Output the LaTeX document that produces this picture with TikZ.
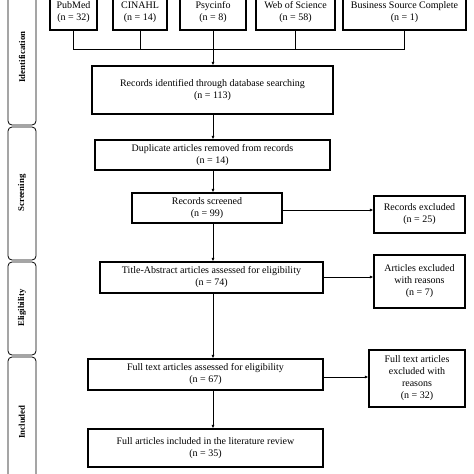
\documentclass[tikz,border=0pt]{standalone}
\usepackage{fontspec}
\setmainfont{Liberation Serif}
\usetikzlibrary{arrows.meta}
\begin{document}
\begin{tikzpicture}[x=1pt,y=-1pt,
  box/.style={draw,line width=1.2pt,align=center,font=\fontsize{10}{12}\selectfont,inner sep=0pt},
  phase/.style={draw,line width=0.8pt,rounded corners=4pt},
  plabel/.style={rotate=90,font=\fontsize{8.8}{10}\selectfont\bfseries},
  conn/.style={line width=0.8pt},
  arr/.style={line width=0.8pt,-{Latex[length=3.5pt,width=3pt]}}]
\useasboundingbox (0,0) rectangle (474,474);
% phase bars
\draw[phase] (8,-10) rectangle (36,125);
\draw[phase] (8,127) rectangle (36,260);
\draw[phase] (8,262) rectangle (36,355);
\draw[phase] (8,357) rectangle (36,490);
\node[plabel] (pid) at (22,57) {Identification};
\node[plabel] (psc) at (22,193) {Screening};
\node[plabel] (pel) at (22,308) {Eligibility};
\node[plabel] (pin) at (22,422) {Included};
% sources
\node[box,minimum width=47pt,minimum height=36pt] (pub) at (73.5,12) {PubMed\\(n = 32)};
\node[box,minimum width=54pt,minimum height=36pt] (cin) at (140,12) {CINAHL\\(n = 14)};
\node[box,minimum width=66pt,minimum height=36pt] (psy) at (213,12) {Psycinfo\\(n = 8)};
\node[box,minimum width=79pt,minimum height=36pt] (wos) at (295.5,12) {Web of Science\\(n = 58)};
\node[box,minimum width=123pt,minimum height=36pt] (bsc) at (404.5,12) {Business Source Complete\\(n = 1)};
% main
\node[box,minimum width=241pt,minimum height=48pt] (rec) at (212.5,90) {Records identified through database searching\\(n = 113)};
\node[box,minimum width=235pt,minimum height=30pt] (dup) at (212.5,155) {Duplicate articles removed from records\\(n = 14)};
\node[box,minimum width=150pt,minimum height=30pt] (scr) at (207,208) {Records screened\\(n = 99)};
\node[box,minimum width=91pt,minimum height=37pt] (rex) at (419.5,214.5) {Records excluded\\(n = 25)};
\node[box,minimum width=223pt,minimum height=31pt] (tab) at (211.5,277.5) {Title-Abstract articles assessed for eligibility\\(n = 74)};
\node[box,minimum width=91pt,minimum height=53pt] (aex) at (419.5,281.5) {Articles excluded\\with reasons\\(n = 7)};
\node[box,minimum width=235pt,minimum height=31pt] (ful) at (205.5,374.5) {Full text articles assessed for eligibility\\(n = 67)};
\node[box,minimum width=96pt,minimum height=57pt] (fex) at (417,378.5) {Full text articles\\excluded with\\reasons\\(n = 32)};
\node[box,minimum width=235pt,minimum height=38pt] (inc) at (205.5,448) {Full articles included in the literature review\\(n = 35)};
% connectors
\coordinate (hl) at (pub.south |- 0,49);
\coordinate (hr) at (bsc.south |- 0,49);
\draw[conn] (pub.south) -- (hl) -- (hr) -- (bsc.south);
\draw[conn] (cin.south) -- (cin.south |- hl);
\draw[conn] (wos.south) -- (wos.south |- hl);
\draw[arr] (psy.south) -- (rec.north -| psy.south);
\draw[arr] (rec.south -| psy.south) -- (dup.north -| psy.south);
\draw[arr] (dup.south -| psy.south) -- (scr.north -| psy.south);
\draw[arr] (scr.south -| psy.south) -- (tab.north -| psy.south);
\draw[arr] (tab.south -| psy.south) -- (ful.north -| psy.south);
\draw[arr] (ful.south -| psy.south) -- (inc.north -| psy.south);
\draw[arr] (scr.east |- 0,210) -- (rex.west |- 0,210);
\draw[arr] (tab.east |- 0,277) -- (aex.west |- 0,277);
\draw[arr] (ful.east |- 0,377) -- (fex.west |- 0,377);
\end{tikzpicture}
\end{document}
